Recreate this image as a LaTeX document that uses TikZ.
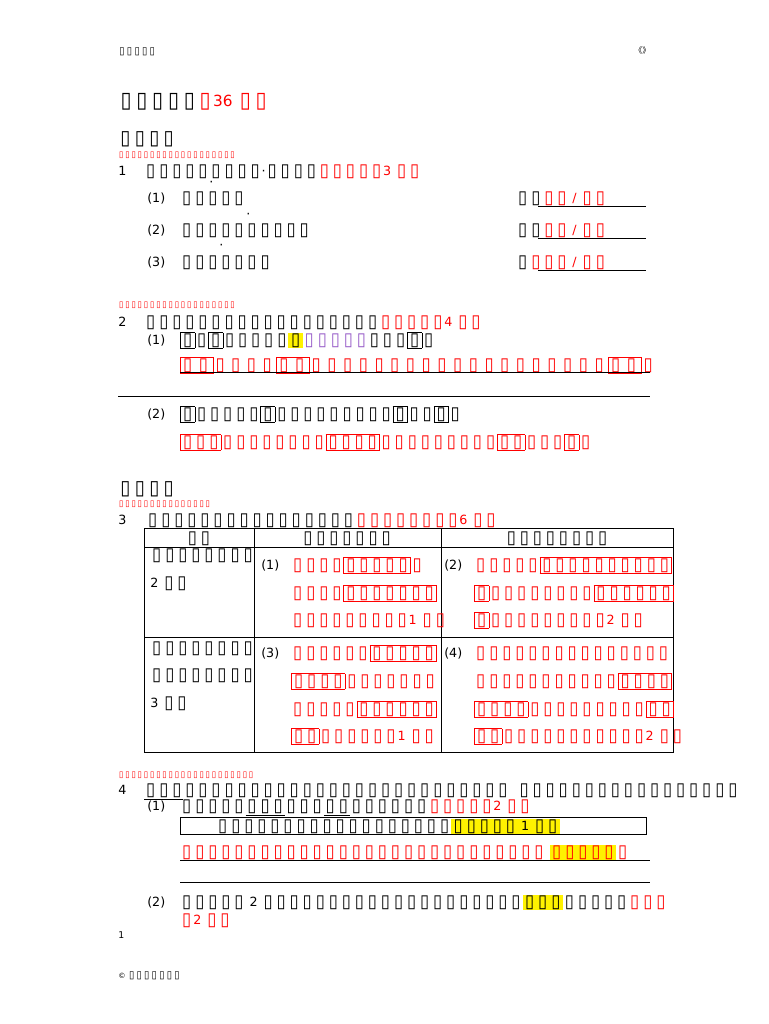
\documentclass[tikz,border=0pt]{standalone}
\usepackage{fontspec}
\setmainfont{DejaVu Sans}
\newfontfamily\cjk{Noto Sans CJK SC}
\usepackage{xcolor}
\usepackage{graphicx}
\usepackage{newunicodechar}
\newunicodechar{▯}{\makebox[1.03em][c]{\raisebox{-0.08em}{\resizebox{0.72em}{0.92em}{\symbol{"25AF}}}}}
\ExplSyntaxOn
\cs_new:Npn \bxs #1 {\prg_replicate:nn{#1}{▯}}
\cs_new:Npn \sbxs #1 {\prg_replicate:nn{#1}{▯\hspace{2pt}}}
\ExplSyntaxOff
\newcommand\R[1]{\textcolor{red}{#1}}
\newcommand\F[1]{{\setlength\fboxsep{0.3pt}\fbox{#1}}}
\newcommand\Y[1]{{\setlength\fboxsep{0.5pt}\colorbox{yellow}{#1}}}
\definecolor{purp}{RGB}{150,90,200}
\begin{document}
\begin{tikzpicture}[x=0.75pt,y=-0.75pt,
  txt/.style={anchor=base west,inner sep=0pt,font=\fontsize{9.5pt}{11pt}\selectfont},
  small/.style={anchor=base west,inner sep=0pt,font=\fontsize{4.5pt}{6pt}\selectfont,text=red},
  tiny/.style={anchor=base west,inner sep=0pt,font=\fontsize{5.5pt}{8pt}\selectfont},
  ln/.style={line width=0.6pt}]
\useasboundingbox[fill=white] (0,0) rectangle (768,1024);
% header
\node[tiny] (h1) at (118,54) {\bxs{5}};
\node[tiny,font=\fontsize{6pt}{8pt}\cjk] (h2) at (634,54) {《》};
\node[anchor=base west,inner sep=0pt,font=\fontsize{11.5pt}{15pt}\selectfont] (title) at (118,106) {\bxs{5}\R{▯36 ▯▯}};
\node[anchor=base west,inner sep=0pt,font=\fontsize{10.5pt}{13pt}\selectfont] (s1) at (118,143) {\bxs{4}};
\node[small] (r1) at (118,157) {\bxs{19}};
\node[txt] (n1) at (118,175) {1};
\node[txt] (q1) at (144,175) {\bxs{9}·\bxs{4}\R{\bxs{5}3 ▯▯}};
\node[txt] at (209,186) (d1) {·};
\node[txt] at (246,218) (d2) {·};
\node[txt] at (219,249) (d3) {·};
\foreach \i/\n/\y in {1/5/202,2/10/234,3/7/266}{
  \node[txt] (p\i) at (147,\y) {(\i)};
  \node[txt] (t\i) at (180,\y) {\bxs{\n}};
  \coordinate (ua\i) at (538,\y+4);
  \coordinate (ub\i) at (646,\y+4);
  \draw[ln] (ua\i) -- (ub\i);
}
\node[txt] (a1) at (516,202) {▯▯\R{▯▯ / ▯▯}};
\node[txt] (a2) at (516,234) {▯▯\R{▯▯ / ▯▯}};
\node[txt] (a3) at (516,266) {▯\R{▯▯▯ / ▯▯}};
% Q2
\node[small] (r2) at (118,307) {\bxs{19}};
\node[txt] (n2) at (118,326) {2};
\node[txt] (q2) at (144,326) {\bxs{18}\R{\bxs{5}4 ▯▯}};
\node[txt] (p21) at (147,344) {(1)};
\node[txt] (t21) at (180,344) {\F{▯}▯\F{▯}\bxs{5}\Y{▯}\textcolor{purp}{\bxs{5}}▯▯▯\F{▯}▯};
\node[txt] (t22) at (180,369) {\R{\F{\sbxs{2}}\sbxs{4}\F{\sbxs{2}}\sbxs{19}\F{\sbxs{2}}▯}};
\coordinate (l1a) at (180,372); \coordinate (l1b) at (650,372);
\draw[ln] (l1a) -- (l1b);
\coordinate (l2a) at (118,396); \coordinate (l2b) at (650,396);
\draw[ln] (l2a) -- (l2b);
\node[txt] (p22) at (147,418) {(2)};
\node[txt] (t23) at (180,418) {\F{▯}\bxs{5}\F{▯}\bxs{9}\F{▯}▯▯\F{▯}▯};
\node[txt] (t24) at (180,446) {\R{\F{▯▯▯}\bxs{8}\F{▯▯▯▯}\bxs{9}\F{▯▯}\bxs{3}\F{▯}▯}};
% section 2
\node[anchor=base west,inner sep=0pt,font=\fontsize{10.5pt}{13pt}\selectfont] (s2) at (118,493) {\bxs{4}};
\node[small] (r3) at (118,506) {\bxs{15}};
\node[txt] (n3) at (118,524) {3};
\node[txt] (q3) at (146,524) {\bxs{16}\R{\bxs{8}6 ▯▯}};
% table
\coordinate (A) at (144,528); \coordinate (B) at (673,752);
\draw[ln] (A) rectangle (B);
\foreach \x in {254,441}{\coordinate (ct\x) at (\x,528); \coordinate (cb\x) at (\x,752); \draw[ln] (ct\x) -- (cb\x);}
\foreach \y in {547,637}{\coordinate (rl\y) at (144,\y); \coordinate (rr\y) at (673,\y); \draw[ln] (rl\y) -- (rr\y);}
\node[txt,anchor=base] (th1) at (199,542) {▯▯};
\node[txt,anchor=base] (th2) at (347,542) {\bxs{7}};
\node[txt,anchor=base] (th3) at (557,542) {\bxs{8}};
\node[txt] (c11) at (150,559) {\bxs{8}};
\node[txt] (c12) at (150,587) {2 ▯▯};
\node[txt] (c21) at (150,652) {\bxs{8}};
\node[txt] (c22) at (150,679) {\bxs{8}};
\node[txt] (c23) at (150,707) {3 ▯▯};
\node[txt] (e1) at (261,569) {(1)};
\node[txt] (e2) at (444,569) {(2)};
\node[txt] (e3) at (261,657) {(3)};
\node[txt] (e4) at (444,657) {(4)};
\begin{scope}[every node/.style={txt,text=red}]
\node (x11) at (291,569) {\bxs{4}\F{\bxs{5}}▯};
\node (x12) at (291,597) {\bxs{4}\F{\bxs{7}}};
\node (x13) at (291,624) {\bxs{9}1 ▯▯};
\node (x21) at (474,569) {\bxs{5}\F{\bxs{10}}};
\node (x22) at (474,597) {\F{▯}\bxs{8}\F{\bxs{6}}};
\node (x23) at (474,624) {\F{▯}\bxs{9}2 ▯▯};
\node (x31) at (291,657) {\bxs{6}\F{\bxs{5}}};
\node (x32) at (291,685) {\F{\bxs{4}}\bxs{7}};
\node (x33) at (291,713) {\bxs{5}\F{\bxs{6}}};
\node (x34) at (291,740) {\F{▯▯}\bxs{6}1 ▯▯};
\node (x41) at (474,657) {\bxs{15}};
\node (x42) at (474,685) {\bxs{11}\F{\bxs{4}}};
\node (x43) at (474,713) {\F{\bxs{4}}\bxs{9}\F{▯▯}};
\node (x44) at (474,740) {\F{▯▯}\bxs{11}2 ▯▯};
\end{scope}
% Q4
\node[small] (r4) at (118,777) {\bxs{22}};
\node[txt] (n4) at (118,794) {4};
\node[txt] (q4) at (144,794) {\underline{▯▯▯}\bxs{25}\ \ \bxs{17}};
\node[txt] (p41) at (147,810) {(1)};
\node[txt] (t41) at (180,810) {\bxs{5}\underline{▯▯▯}▯▯▯\underline{▯▯}\bxs{6}\R{\bxs{5}2 ▯▯}};
\coordinate (f1) at (180,817); \coordinate (f2) at (646,834);
\draw[ln] (f1) rectangle (f2);
\node[txt] (t42) at (216,830) {\bxs{18}\Y{\bxs{5} 1 ▯▯}};
\node[txt] (t43) at (180,856) {\R{\bxs{28} \Y{\bxs{5}}▯}};
\coordinate (l3a) at (180,860); \coordinate (l3b) at (650,860);
\draw[ln] (l3a) -- (l3b);
\coordinate (l4a) at (180,882); \coordinate (l4b) at (650,882);
\draw[ln] (l4a) -- (l4b);
\node[txt] (p42) at (147,906) {(2)};
\node[txt] (t44) at (180,906) {\bxs{5} 2 \bxs{20}\Y{\bxs{3}}\bxs{5}\R{\bxs{3}}};
\node[txt] (t45) at (180,924) {\R{▯2 ▯▯}};
% footer
\node[anchor=base west,inner sep=0pt,font=\fontsize{7pt}{8pt}\selectfont] (ft1) at (118,938) {1};
\node[tiny] (ft2) at (118,978) {© \bxs{7}};
\end{tikzpicture}
\end{document}
